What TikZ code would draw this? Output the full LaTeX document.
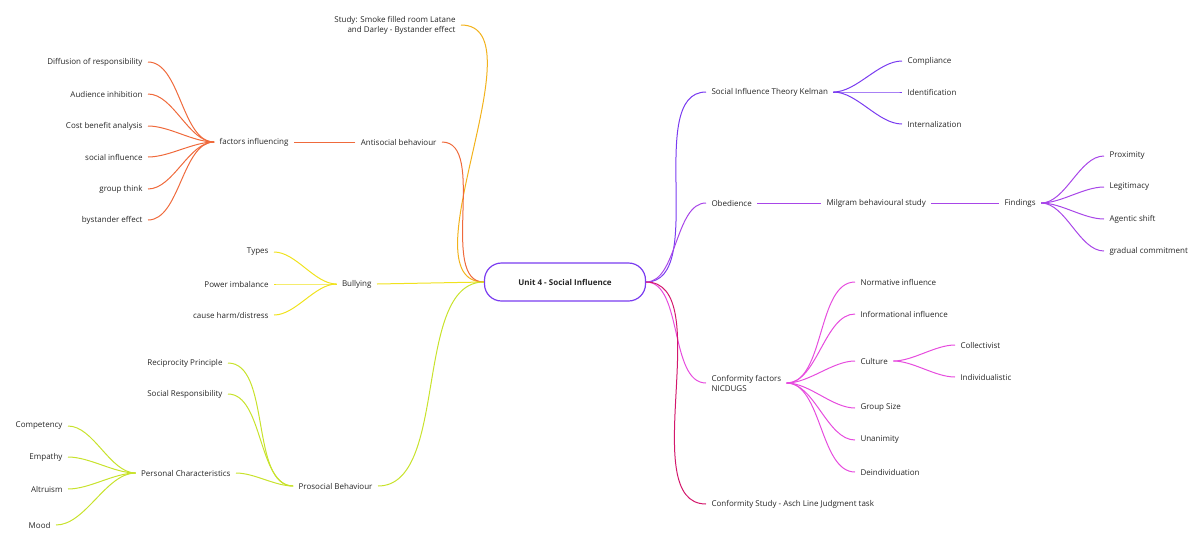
\documentclass[tikz,border=0pt]{standalone}
\usepackage{fontspec}
\setmainfont{Open Sans}
\begin{document}
\begin{tikzpicture}[x=1pt,y=-1pt,
  every node/.style={font=\fontsize{8}{10}\selectfont, inner xsep=5pt, inner ysep=1pt, text=black!85},
  R/.style={anchor=west}, L/.style={anchor=east},
  every path/.style={line width=1pt},
  cr/.style={out=0,in=180,looseness=0.8},
  cl/.style={out=180,in=0,looseness=0.8}]
\definecolor{cOr}{HTML}{EF6A3C}\definecolor{cSt}{HTML}{F2B21C}
\definecolor{cYe}{HTML}{F0E21E}\definecolor{cGr}{HTML}{C8E22C}
\definecolor{cPu}{HTML}{7A3CF0}\definecolor{cVi}{HTML}{A846E8}
\definecolor{cMa}{HTML}{E64CDE}\definecolor{cCr}{HTML}{D3186C}
\useasboundingbox (0,0) rectangle (1200,555);
\node[draw=cPu,line width=1.2pt,rounded corners=17pt,minimum width=161pt,minimum height=38pt,font=\fontsize{8}{10}\selectfont\bfseries] (c) at (565,282) {Unit 4 - Social Influence};
% right
\node[R] (k) at (706,92) {Social Influence Theory Kelman};
\node[R] (k1) at (902,61) {Compliance};
\node[R] (k2) at (902,92) {Identification};
\node[R] (k3) at (902,124) {Internalization};
\node[R] (o) at (706,203) {Obedience};
\node[R] (m) at (821,203) {Milgram behavioural study};
\node[R] (f) at (999,203) {Findings};
\node[R] (f1) at (1104,156) {Proximity};
\node[R] (f2) at (1104,187) {Legitimacy};
\node[R] (f3) at (1104,219) {Agentic shift};
\node[R] (f4) at (1104,251) {gradual commitment};
\node[R,align=left] (cf) at (706,383) {Conformity factors\\NICDUGS};
\node[R] (n1) at (855,282) {Normative influence};
\node[R] (n2) at (855,314) {Informational influence};
\node[R] (n3) at (855,361) {Culture};
\node[R] (n4) at (855,408) {Group Size};
\node[R] (n5) at (855,440) {Unanimity};
\node[R] (n6) at (855,472) {Deindividuation};
\node[R] (cu1) at (955,345) {Collectivist};
\node[R] (cu2) at (955,377) {Individualistic};
\node[R] (a) at (706,504) {Conformity Study - Asch Line Judgment task};
% left
\node[L,align=right] (s) at (461,25) {Study: Smoke filled room Latane\\and Darley - Bystander effect};
\node[L] (ab) at (442,142) {Antisocial behaviour};
\node[L] (fi) at (294,142) {factors influencing};
\node[L] (a1) at (148,62) {Diffusion of responsibility};
\node[L] (a2) at (148,94) {Audience inhibition};
\node[L] (a3) at (148,126) {Cost benefit analysis};
\node[L] (a4) at (148,157) {social influence};
\node[L] (a5) at (148,189) {group think};
\node[L] (a6) at (148,220) {bystander effect};
\node[L] (b) at (377,284) {Bullying};
\node[L] (b1) at (274,252) {Types};
\node[L] (b2) at (274,284) {Power imbalance};
\node[L] (b3) at (274,315) {cause harm/distress};
\node[L] (p) at (378,486) {Prosocial Behaviour};
\node[L] (p1) at (228,363) {Reciprocity Principle};
\node[L] (p2) at (228,394) {Social Responsibility};
\node[L] (pc) at (236,473) {Personal Characteristics};
\node[L] (q1) at (68,426) {Competency};
\node[L] (q2) at (68,457) {Empathy};
\node[L] (q3) at (68,489) {Altruism};
\node[L] (q4) at (56,525) {Mood};
% edges right
\draw[cPu] (c.east) to[cr] (k.west);
\foreach \t in {k1,k2,k3} \draw[cPu] (k.east) to[cr] (\t.west);
\draw[cVi] (c.east) to[cr] (o.west);
\draw[cVi] (o.east) -- (m.west); \draw[cVi] (m.east) -- (f.west);
\foreach \t in {f1,f2,f3,f4} \draw[cVi] (f.east) to[cr] (\t.west);
\draw[cMa] (c.east) to[cr] (cf.west);
\foreach \t in {n1,n2,n3,n4,n5,n6} \draw[cMa] (cf.east) to[cr] (\t.west);
\foreach \t in {cu1,cu2} \draw[cMa] (n3.east) to[cr] (\t.west);
\draw[cCr] (c.east) to[cr] (a.west);
% edges left
\draw[cSt] (c.west) to[cl] (s.east);
\draw[cOr] (c.west) to[cl] (ab.east);
\draw[cOr] (ab.west) -- (fi.east);
\foreach \t in {a1,a2,a3,a4,a5,a6} \draw[cOr] (fi.west) to[cl] (\t.east);
\draw[cYe] (c.west) -- (b.east);
\foreach \t in {b1,b2,b3} \draw[cYe] (b.west) to[cl] (\t.east);
\draw[cGr] (c.west) to[cl] (p.east);
\foreach \t in {p1,p2,pc} \draw[cGr] (p.west) to[cl] (\t.east);
\foreach \t in {q1,q2,q3,q4} \draw[cGr] (pc.west) to[cl] (\t.east);
\end{tikzpicture}
\end{document}
